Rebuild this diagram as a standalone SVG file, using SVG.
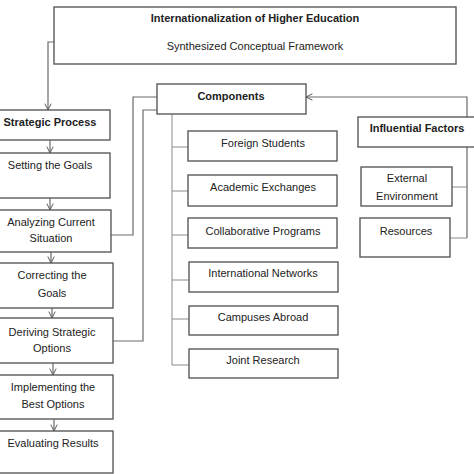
<svg xmlns="http://www.w3.org/2000/svg" width="474" height="474" viewBox="0 0 474 474">
<defs>
<marker id="ah" viewBox="0 0 10 10" refX="9" refY="5" markerWidth="8" markerHeight="8" orient="auto" markerUnits="userSpaceOnUse">
<path d="M1,1 L9,5 L1,9" fill="none" stroke="#555" stroke-width="1.2"/>
</marker>
<style>
.box{fill:#fff;stroke:#5a5a5a;stroke-width:1.4}
.ln{fill:none;stroke:#6a6a6a;stroke-width:1.2}
.lt{fill:none;stroke:#8a8a8a;stroke-width:1}
text{font-family:"Liberation Sans",Arial,sans-serif;font-size:11px;fill:#222;text-anchor:middle}
.b{font-weight:bold}
</style>
</defs>
<rect width="474" height="474" fill="#fff"/>
<g id="connectors">
<path class="ln" d="M54,42 H48 V110" marker-end="url(#ah)"/>
<path class="ln" d="M50,140 V153" marker-end="url(#ah)"/>
<path class="ln" d="M50,198 V210" marker-end="url(#ah)"/>
<path class="ln" d="M51,252 V263" marker-end="url(#ah)"/>
<path class="ln" d="M52,308 V318" marker-end="url(#ah)"/>
<path class="ln" d="M53,363 V375" marker-end="url(#ah)"/>
<path class="ln" d="M54,419 V431" marker-end="url(#ah)"/>
<path class="ln" d="M157,97 H133 V235 H111"/>
<path class="ln" d="M157,110 H143 V341 H113"/>
<path class="lt" d="M172,114 V365 H189 M172,147 H188 M172,191 H188 M172,235 H188 M172,280 H189 M172,319 H189"/>
<path class="ln" d="M467,238 V97 H306" marker-end="url(#ah)"/>
<path class="lt" d="M452,187 H467 M450,238 H467"/>
</g>
<g id="n-title"><rect class="box" x="54" y="7" width="402" height="57"/>
<text class="b" x="255" y="22">Internationalization of Higher Education</text>
<text x="255" y="50">Synthesized Conceptual Framework</text></g>
<g id="n-strategic"><rect class="box" x="-2" y="110" width="112" height="30"/><text class="b" x="50" y="126">Strategic Process</text></g>
<g id="n-setting"><rect class="box" x="-2" y="153" width="112" height="45"/><text x="50" y="169">Setting the Goals</text></g>
<g id="n-analyzing"><rect class="box" x="-2" y="210" width="113" height="42"/><text x="51" y="226">Analyzing Current</text><text x="51" y="242">Situation</text></g>
<g id="n-correcting"><rect class="box" x="-2" y="263" width="115" height="45"/><text x="52" y="279">Correcting the</text><text x="52" y="297">Goals</text></g>
<g id="n-deriving"><rect class="box" x="-2" y="318" width="115" height="45"/><text x="52" y="336">Deriving Strategic</text><text x="52" y="352">Options</text></g>
<g id="n-implementing"><rect class="box" x="-2" y="375" width="115" height="44"/><text x="53" y="391">Implementing the</text><text x="53" y="408">Best Options</text></g>
<g id="n-evaluating"><rect class="box" x="-2" y="431" width="115" height="42"/><text x="53" y="447">Evaluating Results</text></g>
<g id="n-components"><rect class="box" x="157" y="84" width="149" height="30"/><text class="b" x="231" y="100">Components</text></g>
<g id="n-foreign"><rect class="box" x="188" y="131" width="149" height="30"/><text x="263" y="147">Foreign Students</text></g>
<g id="n-academic"><rect class="box" x="188" y="175" width="149" height="31"/><text x="263" y="191">Academic Exchanges</text></g>
<g id="n-collab"><rect class="box" x="188" y="218" width="149" height="30"/><text x="263" y="235">Collaborative Programs</text></g>
<g id="n-intl"><rect class="box" x="189" y="262" width="149" height="30"/><text x="263" y="277">International Networks</text></g>
<g id="n-campuses"><rect class="box" x="189" y="306" width="149" height="29"/><text x="263" y="321">Campuses Abroad</text></g>
<g id="n-joint"><rect class="box" x="189" y="349" width="149" height="29"/><text x="263" y="364">Joint Research</text></g>
<g id="n-influential"><rect class="box" x="358" y="117" width="117" height="30"/><text class="b" x="417" y="132">Influential Factors</text></g>
<g id="n-external"><rect class="box" x="361" y="167" width="91" height="39"/><text x="407" y="182">External</text><text x="407" y="200">Environment</text></g>
<g id="n-resources"><rect class="box" x="360" y="218" width="90" height="39"/><text x="406" y="235">Resources</text></g>
</svg>
